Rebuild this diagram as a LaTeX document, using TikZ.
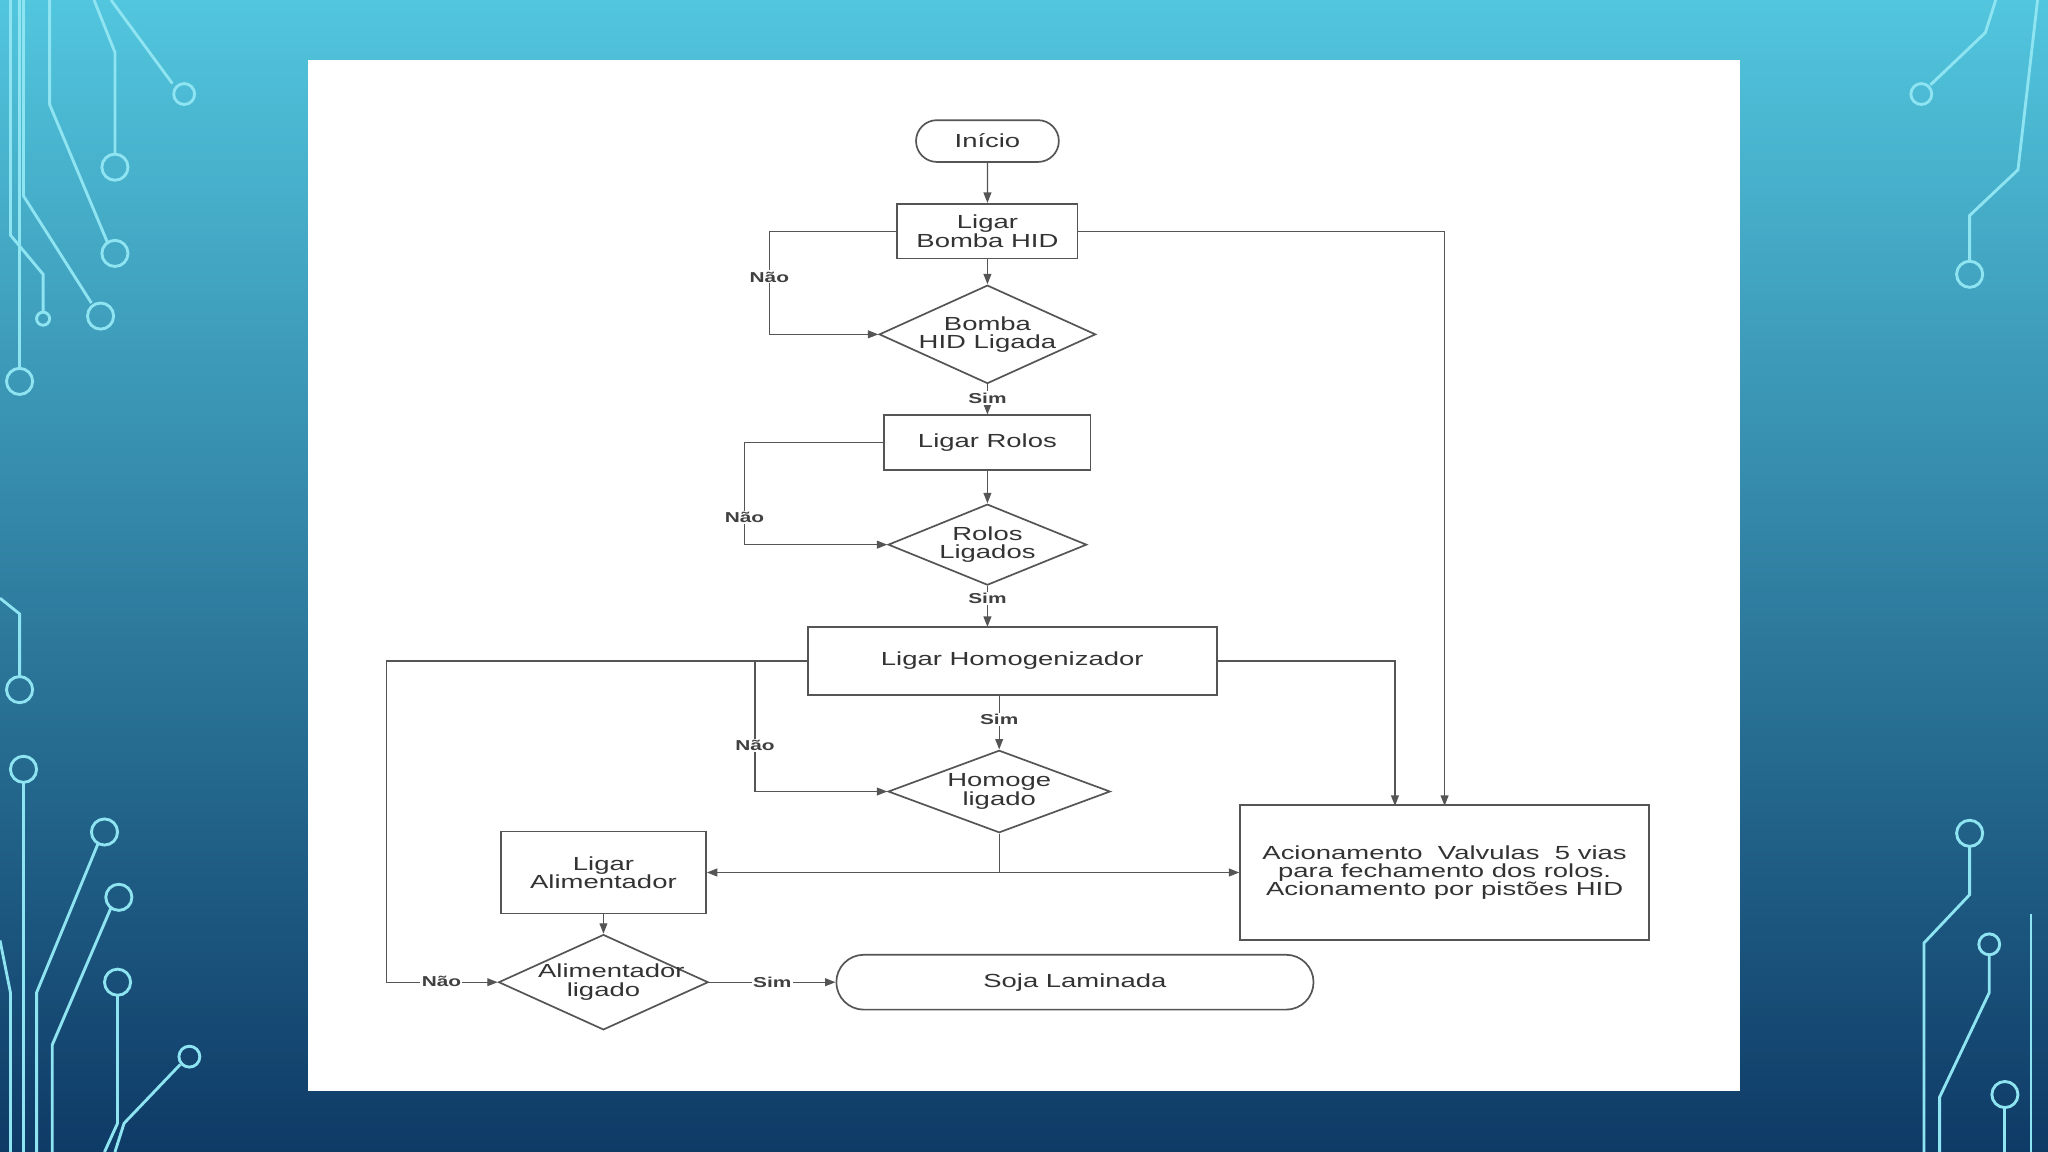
\documentclass[tikz,border=0pt]{standalone}
\usepackage{fontspec}
\setmainfont{Liberation Sans}[FakeStretch=1.45]
\usetikzlibrary{shapes.geometric,shapes.misc,arrows.meta,shadings}
\definecolor{bgtop}{HTML}{52C6DE}
\definecolor{bgbot}{HTML}{0E3A66}
\definecolor{circ}{HTML}{8FE4F2}
\definecolor{ln}{HTML}{555555}
\begin{document}
\begin{tikzpicture}[x=1pt,y=-1pt,
  box/.style={draw=ln,line width=1.3pt,fill=white,minimum width=#1,align=center,font=\fontsize{14.5}{14}\selectfont,text=black!80},
  dia/.style={diamond,draw=ln,line width=1.3pt,fill=white,aspect=2.2,inner sep=0pt,align=center,font=\fontsize{14.5}{14}\selectfont,text=black!80},
  term/.style={rounded rectangle,draw=ln,line width=1.3pt,fill=white,font=\fontsize{14.5}{14}\selectfont,text=black!80},
  ar/.style={draw=ln,line width=1pt,-{Triangle[length=8pt,width=6pt]}},
  lb/.style={font=\fontsize{11}{11}\selectfont\bfseries,text=black!75,fill=white,inner sep=1pt},
  cc/.style={draw=circ,line width=2.2pt},
]
\useasboundingbox (0,0) rectangle (1568,882);
\shade[top color=bgtop,bottom color=bgbot] (0,0) rectangle (1568,882);
% circuit decorations left
\draw[cc] (72,0)--(88,40)--(88,118); \draw[cc] (88,128) circle (10);
\draw[cc] (85,0)--(132,64); \draw[cc] (141,72) circle (8);
\draw[cc] (38,0)--(38,80)--(82,185); \draw[cc] (88,194) circle (10);
\draw[cc] (18,0)--(18,150)--(70,232); \draw[cc] (77,242) circle (10);
\draw[cc] (8,0)--(8,180)--(33,210)--(33,238); \draw[cc] (33,244) circle (5);
\draw[cc] (15,0)--(15,282); \draw[cc] (15,292) circle (10);
\draw[cc] (0,458)--(15,470)--(15,518); \draw[cc] (15,528) circle (10);
\draw[cc] (18,599)--(18,882); \draw[cc] (18,589) circle (10);
\draw[cc] (75,646)--(28,760)--(28,882); \draw[cc] (80,637) circle (10);
\draw[cc] (85,695)--(40,800)--(40,882); \draw[cc] (91,687) circle (10);
\draw[cc] (90,762)--(90,860)--(80,882); \draw[cc] (90,752) circle (10);
\draw[cc] (138,815)--(95,860)--(88,882); \draw[cc] (145,809) circle (8);
\draw[cc] (0,720)--(8,760)--(8,882);
% right
\draw[cc] (1528,0)--(1520,25)--(1478,65); \draw[cc] (1471,72) circle (8);
\draw[cc] (1560,0)--(1545,130)--(1508,165)--(1508,200); \draw[cc] (1508,210) circle (10);
\draw[cc] (1508,648)--(1508,685)--(1473,722)--(1473,882); \draw[cc] (1508,638) circle (10);
\draw[cc] (1523,732)--(1523,760)--(1485,840)--(1485,882); \draw[cc] (1523,723) circle (8);
\draw[cc] (1535,848)--(1535,882); \draw[cc] (1535,838) circle (10);
\draw[cc] (1555,700)--(1555,882);
% panel
\fill[white] (236,46) rectangle (1332,835);
% nodes
\node[term,minimum width=116pt,minimum height=32pt] (ini) at (756,108) {Início};
\node[box=138pt,minimum height=42pt] (b1) at (756,177) {Ligar\\Bomba HID};
\node[dia,minimum width=154pt,minimum height=72pt] (d1) at (756,256) {Bomba\\HID Ligada};
\node[box=158pt,minimum height=42pt] (b2) at (756,339) {Ligar Rolos};
\node[dia,minimum width=152pt,minimum height=62pt] (d2) at (756,417) {Rolos\\Ligados};
\node[box=313pt,minimum height=52pt] (b3) at (775,506) {Ligar Homogenizador};
\node[dia,minimum width=170pt,minimum height=62pt] (d3) at (765,606) {Homoge\\ligado};
\node[box=313pt,minimum height=103pt] (ac) at (1106,668) {Acionamento\ \ Valvulas\ \ 5 vias\\para fechamento dos rolos.\\Acionamento por pistões HID};
\node[box=157pt,minimum height=63pt] (b4) at (462,668) {Ligar\\Alimentador};
\node[dia,minimum width=152pt,minimum height=72pt,text width=100pt] (d4) at (462,752) {Alimentador\\ligado};
\node[term,minimum width=372pt,minimum height=42pt] (soja) at (823,752) {Soja Laminada};
\coordinate (j) at (765,668);
% connectors
\draw[ar] (ini)--(b1);
\draw[ar] (b1)--(d1);
\draw[ar] (b1.west)-|(589,230)|-(d1.west);
\node[lb] at (589,212) {Não};
\draw[ar] (b1.east)-|(1106,617);
\draw[ar] (d1)--(b2) node[lb,pos=0.45] {Sim};
\draw[ar] (b2.west)-|(570,400)|-(d2.west);
\node[lb] at (570,396) {Não};
\draw[ar] (b2)--(d2);
\draw[ar] (d2.south)--(756,480) node[lb,pos=0.3] {Sim};
\draw[ar] (b3.east)-|(1068,617);
\draw[ar] (b3.west)-|(296,700)|-(d4.west);
\node[lb] at (338,751) {Não};
\draw[ar] (578,506)--(578,590)|-(d3.west);
\node[lb] at (578,571) {Não};
\draw[ar] (765,532)--(d3.north) node[lb,pos=0.45] {Sim};
\draw[draw=ln,line width=1pt] (d3.south)--(j);
\draw[ar] (j)--(b4.east);
\draw[ar] (j)--(ac.west);
\draw[ar] (b4)--(d4);
\draw[ar] (d4.east)--(soja.west) node[lb,pos=0.5] {Sim};
\end{tikzpicture}
\end{document}
